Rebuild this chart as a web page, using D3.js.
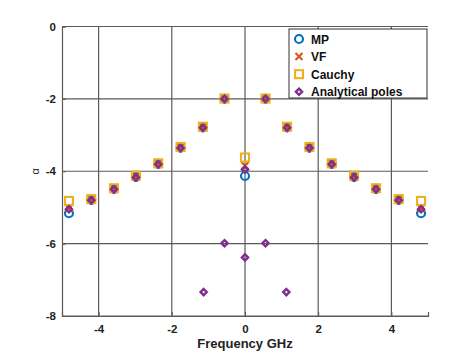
<!DOCTYPE html>
<html><head><meta charset="utf-8">
<script src="https://cdn.jsdelivr.net/npm/d3@7/dist/d3.min.js"></script>
<style>body{margin:0;background:#fff}svg{display:block}text{font-family:"Liberation Sans",Arial,sans-serif}</style>
</head><body>
<script>
// Data
const freqUpper = [-4.81,-4.2,-3.58,-2.98,-2.37,-1.76,-1.15,-0.56,0,0.56,1.15,1.76,2.37,2.98,3.58,4.2,4.81];
const mpVals     = [-5.16,-4.79,-4.49,-4.16,-3.80,-3.35,-2.79,-2.0,-4.13,-2.0,-2.79,-3.35,-3.80,-4.16,-4.49,-4.79,-5.16];
const vfVals     = [-5.02,-4.79,-4.49,-4.16,-3.80,-3.35,-2.79,-2.0,-3.85,-2.0,-2.79,-3.35,-3.80,-4.16,-4.49,-4.79,-5.02];
const cauchyVals = [-4.82,-4.77,-4.47,-4.12,-3.78,-3.33,-2.77,-1.99,-3.62,-1.99,-2.77,-3.33,-3.78,-4.12,-4.47,-4.77,-4.82];
const polesFreq  = [-4.81,-4.2,-3.58,-2.98,-2.37,-1.76,-1.15,-0.56,0,0.56,1.15,1.76,2.37,2.98,3.58,4.2,4.81,-1.13,-0.56,0,0.56,1.13];
const polesVals  = [-5.05,-4.8,-4.5,-4.17,-3.81,-3.36,-2.8,-2.0,-3.95,-2.0,-2.8,-3.36,-3.81,-4.17,-4.5,-4.8,-5.05,-7.34,-5.99,-6.38,-5.99,-7.34];
const xTicks = [-4,-2,0,2,4];
const yTicks = [0,-2,-4,-6,-8];
const legendLabels = ["MP","VF","Cauchy","Analytical poles"];
const colors = ["#0072BD","#D95319","#EDB120","#7E2F8E"];

const W=474,H=355;
const svg=d3.select("body").append("svg").attr("width",W).attr("height",H);
const x=d3.scaleLinear().domain([-5,5]).range([62,428]);
const y=d3.scaleLinear().domain([-8,0]).range([316,26.5]);

// grid
const g=svg.append("g");
g.selectAll(".gx").data(xTicks).join("line").attr("x1",d=>x(d)).attr("x2",d=>x(d)).attr("y1",y(-8)).attr("y2",y(0)).attr("stroke","#5a5a5a").attr("stroke-width",1.2);
g.selectAll(".gy").data(yTicks).join("line").attr("x1",x(-5)).attr("x2",x(5)).attr("y1",d=>y(d)).attr("y2",d=>y(d)).attr("stroke","#5a5a5a").attr("stroke-width",1.2);

// axes
const xa=svg.append("g").attr("transform",`translate(0,${y(-8)})`).call(d3.axisBottom(x).tickValues(xTicks).tickSize(-4).tickPadding(9).tickFormat(d3.format("d")));
const ya=svg.append("g").attr("transform",`translate(${x(-5)},0)`).call(d3.axisLeft(y).tickValues(yTicks).tickSize(-4).tickPadding(6).tickFormat(d3.format("d")));
[xa,ya].forEach(a=>{a.select(".domain").attr("stroke","#5a5a5a").attr("stroke-width",1.2);a.selectAll(".tick line").attr("stroke","#5a5a5a");a.selectAll("text").attr("font-size",11.5).attr("font-weight","bold").attr("fill","#222").attr("font-family","Liberation Sans, Arial, sans-serif");});
xa.selectAll(".tick text").text(d=>d<0?"-"+Math.abs(d):d);
ya.selectAll(".tick text").text(d=>d<0?"-"+Math.abs(d):d);

svg.append("text").attr("x",x(0)).attr("y",348).attr("text-anchor","middle").attr("font-size",13).attr("font-weight","bold").attr("fill","#222").text("Frequency GHz");
svg.append("text").attr("transform",`translate(39,${y(-4)}) rotate(-90)`).attr("text-anchor","middle").attr("font-size",11).attr("fill","#222").text("α");

// markers
function drawMarker(sel,type,color){
  if(type===0) sel.append("circle").attr("r",4).attr("fill","none").attr("stroke",color).attr("stroke-width",2.1);
  else if(type===1) sel.append("path").attr("d","M-3.5,-3.5L3.5,3.5M-3.5,3.5L3.5,-3.5").attr("stroke",color).attr("stroke-width",2.1).attr("fill","none");
  else if(type===2) sel.append("rect").attr("x",-4).attr("y",-4).attr("width",8).attr("height",8).attr("fill","none").attr("stroke",color).attr("stroke-width",2.1);
  else sel.append("path").attr("d","M0,-3.1L3.1,0L0,3.1L-3.1,0Z").attr("fill","none").attr("stroke",color).attr("stroke-width",2.4);
}
const series=[[freqUpper,mpVals],[freqUpper,vfVals],[freqUpper,cauchyVals],[polesFreq,polesVals]];
series.forEach((s,i)=>{
  const pts=s[0].map((f,j)=>[f,s[1][j]]);
  svg.append("g").selectAll("g").data(pts).join("g").attr("transform",d=>`translate(${x(d[0])},${y(d[1])})`).each(function(){drawMarker(d3.select(this),i,colors[i]);});
});

// legend
const lg=svg.append("g");
lg.append("rect").attr("x",289).attr("y",29).attr("width",138).attr("height",69).attr("fill","#fff").attr("stroke","#333").attr("stroke-width",1);
legendLabels.forEach((l,i)=>{
  const yy=39+i*17.6;
  const m=lg.append("g").attr("transform",`translate(299,${yy})`);
  drawMarker(m,i,colors[i]);
  lg.append("text").attr("x",311).attr("y",yy+4.5).attr("font-size",12).attr("font-weight","bold").attr("fill","#111").text(l);
});
</script>
</body></html>
